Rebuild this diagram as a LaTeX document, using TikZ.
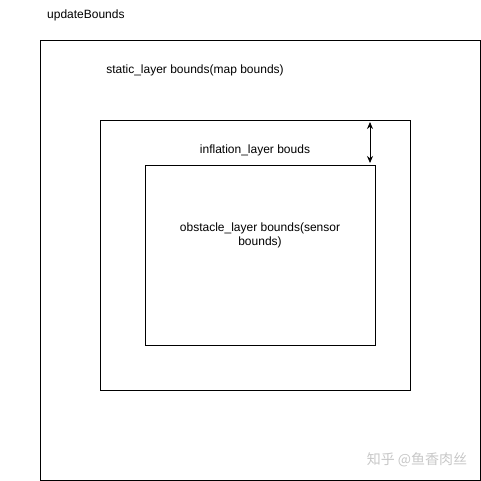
\documentclass[tikz,border=0pt]{standalone}
\usepackage{fontspec}
\setmainfont{Liberation Sans}
\newfontfamily\cjkfont{Noto Sans CJK SC}
\usetikzlibrary{positioning,arrows.meta}

\tikzset{
  bound/.style={draw, line width=0.9pt},
  lbl/.style={font=\fontsize{12}{14}\selectfont, inner sep=0pt, align=center}
}

\begin{document}
\begin{tikzpicture}[x=1pt,y=-1pt]
\useasboundingbox (0,0) rectangle (481,481);

\coordinate (s0) at (40,40);
\coordinate (s1) at (480,480);
\coordinate (f0) at (100,120);
\coordinate (f1) at (410,390);
\coordinate (o0) at (145,165);
\coordinate (o1) at (375,345);

\draw[bound] (s0) rectangle (s1);
\draw[bound] (f0) rectangle (f1);
\draw[bound] (o0) rectangle (o1);

\node (title) at (47,15) [lbl, anchor=west] {updateBounds};
\node (l0) at (195,70) [lbl] {static\_layer bounds(map bounds)};
\node (l1) at (255,150) [lbl] {inflation\_layer bouds};
\node (l2) at (260,235) [lbl] {obstacle\_layer bounds(sensor\\bounds)};

\coordinate (a0) at (370,122);
\coordinate (a1) at (370,163);
\draw[{Stealth[length=7pt,width=6pt]}-{Stealth[length=7pt,width=6pt]}, line width=0.8pt] (a0) -- (a1);

\node (wm) at (417,460) [font=\cjkfont\fontsize{14}{16}\selectfont, text=black!22, inner sep=0pt] {知乎 @鱼香肉丝};
\end{tikzpicture}
\end{document}
